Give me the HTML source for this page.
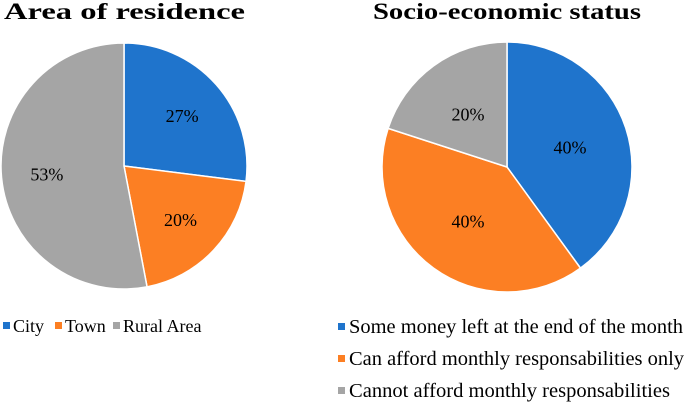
<!DOCTYPE html>
<html><head><meta charset="utf-8"><style>
body{margin:0;background:#fff}
svg{display:block}
text{font-family:"Liberation Serif",serif;fill:#000}
</style></head><body>
<svg id="c" width="685" height="405">
<text x="4" y="19" font-size="23" font-weight="bold" textLength="241" lengthAdjust="spacingAndGlyphs">Area of residence</text>
<text x="373" y="19" font-size="23" font-weight="bold" textLength="268" lengthAdjust="spacingAndGlyphs">Socio-economic status</text>
</svg>
<script>
const resCategories=["City","Town","Rural Area"];
const resValues=[27,20,53];
const socCategories=["Some money left at the end of the month","Can afford monthly responsabilities only","Cannot afford monthly responsabilities"];
const socValues=[40,40,20];
const colors=["#1f74cc","#fc7f23","#a5a5a5"];
const svg=document.getElementById('c');
const NS="http://www.w3.org/2000/svg";
function mk(t,a){const e=document.createElementNS(NS,t);for(const k in a)e.setAttribute(k,a[k]);svg.appendChild(e);return e;}
function pie(vals,cx,cy,r,k,prefix){
  const tot=vals.reduce((a,b)=>a+b,0);let a0=0;
  vals.forEach((v,i)=>{
    const a1=a0+v/tot*2*Math.PI;
    const x0=cx+r*Math.sin(a0),y0=cy-r*Math.cos(a0),x1=cx+r*Math.sin(a1),y1=cy-r*Math.cos(a1);
    const p=mk('path',{d:`M${cx},${cy}L${x0},${y0}A${r},${r} 0 ${a1-a0>Math.PI?1:0} 1 ${x1},${y1}Z`,fill:colors[i],stroke:'#fff','stroke-width':1.5});
    
    
    const m=(a0+a1)/2;
    const t=mk('text',{x:cx+k*r*Math.sin(m),y:cy-k*r*Math.cos(m)+7,'text-anchor':'middle','font-size':18});
    t.textContent=Math.round(v/tot*100)+'%';
    
    
    a0=a1;
  });
}
pie(resValues,124,166,123,0.63,'residence');
pie(socValues,507,167,125,0.53,'socio');
const lx=[3,55,113];
resCategories.forEach((c,i)=>{
  const r=mk('rect',{x:lx[i],y:322,width:7,height:7,fill:colors[i]});
  
  
  const t=mk('text',{x:lx[i]+10,y:332,'font-size':18});
  t.textContent=c;
  
  
});
const socLen=[334,335,321];
socCategories.forEach((c,i)=>{
  const y=327+i*32;
  const r=mk('rect',{x:338,y:y-4,width:7,height:7,fill:colors[i]});
  
  
  const t=mk('text',{x:349,y:y+6,'font-size':20,textLength:socLen[i],lengthAdjust:'spacingAndGlyphs'});
  t.textContent=c;
  
  
});
</script>
</body></html>
